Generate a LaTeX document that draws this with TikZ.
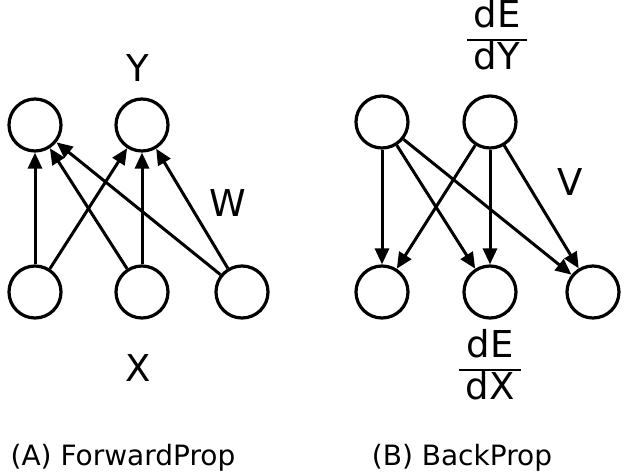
\documentclass[tikz,border=0pt]{standalone}
\usepackage{fontspec}
\setmainfont{DejaVu Sans}
\usetikzlibrary{arrows.meta}
\newcommand{\myfrac}[2]{\setlength{\arrayrulewidth}{2.5pt}\renewcommand{\arraystretch}{0.95}\begin{tabular}{@{\,}c@{\,}}#1\\\hline #2\end{tabular}}
\begin{document}
\begin{tikzpicture}[x=1pt,y=-1pt,
  neuron/.style={circle,draw,line width=3.2pt,minimum size=52pt,inner sep=0pt},
  conn/.style={line width=3pt,-{Triangle[length=16pt,width=14pt]}},
  lbl/.style={font=\fontsize{37}{40}\selectfont},
  captxt/.style={font=\fontsize{28}{30}\selectfont}]
\useasboundingbox (0,0) rectangle (624,474);
\node[neuron] (a1) at (35,125) {};
\node[neuron] (a2) at (142,125) {};
\node[neuron] (b1) at (35,292) {};
\node[neuron] (b2) at (142,292) {};
\node[neuron] (b3) at (242,292) {};
\node[lbl] (ly) at (138,68) {Y};
\node[lbl] (lx) at (138,368) {X};
\node[lbl] (lw) at (228,203) {W};
\node[captxt] (ca) at (123,458) {(A) ForwardProp};
\foreach \s in {b1,b2,b3}{\foreach \t in {a1,a2}{\draw[conn] (\s) -- (\t);}}
\node[neuron] (c1) at (382,122) {};
\node[neuron] (c2) at (490,122) {};
\node[neuron] (d1) at (382,292) {};
\node[neuron] (d2) at (490,292) {};
\node[neuron] (d3) at (593,292) {};
\node[lbl] (ldy) at (497,40) {\myfrac{dE}{dY}};
\node[lbl] (ldx) at (490,370) {\myfrac{dE}{dX}};
\node[lbl] (lv) at (570,182) {V};
\node[captxt] (cb) at (462,458) {(B) BackProp};
\foreach \s in {c1,c2}{\foreach \t in {d1,d2,d3}{\draw[conn] (\s) -- (\t);}}
\end{tikzpicture}
\end{document}
